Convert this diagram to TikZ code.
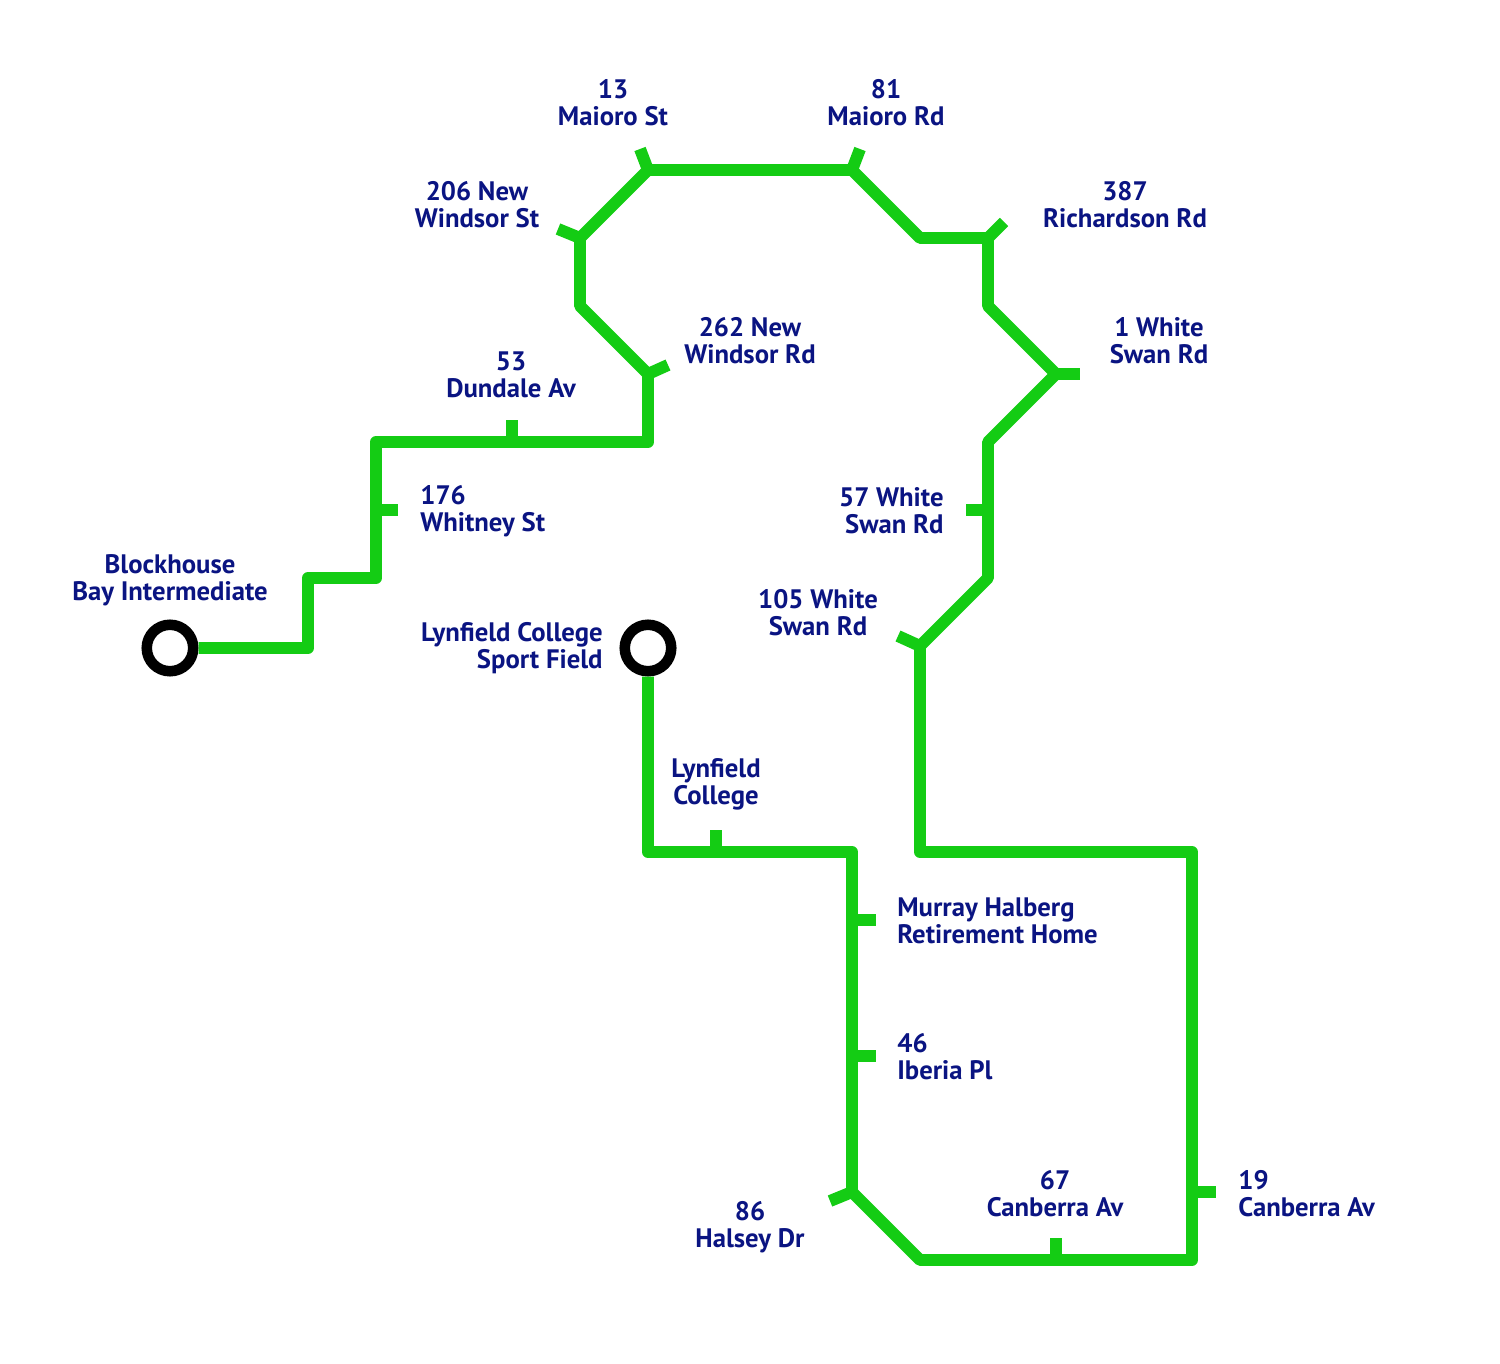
\documentclass[tikz,border=0pt]{standalone}
\usepackage{fontspec}
\setmainfont{PT Sans}
\definecolor{route}{RGB}{20,204,20}
\definecolor{lab}{RGB}{10,20,130}
\begin{document}
\begin{tikzpicture}[x=0.02cm,y=-0.02cm,
  line/.style={route,line width=6.8pt,line join=round},
  tick/.style={route,line width=6.8pt},
  lbl/.style={lab,font=\bfseries\fontsize{15.2}{15.3}\selectfont,align=center,inner sep=0pt},
  term/.style={circle,draw=black,fill=white,line width=6pt,minimum size=0.93cm,inner sep=0pt}]
\useasboundingbox (0,0) rectangle (1500,1364);
\foreach \n/\x/\y in {p1/308/648,p2/308/578,p3/376/578,p4/376/442,p5/648/442,p6/648/374,p7/580/306,p8/580/238,p9/648/170,p10/852/170,p11/920/238,p12/988/238,p13/988/306,p14/1056/374,p15/988/442,p16/988/578,p17/920/646,p18/920/852,p19/1192/852,p20/1192/1260,p21/920/1260,p22/852/1192,p23/852/852,p24/648/852}
  \coordinate (\n) at (\x,\y);
\node[term] (ta) at (170,648) {};
\node[term] (tb) at (648,648) {};
\draw[line] (ta) -- (p1) -- (p2) -- (p3) -- (p4) -- (p5) -- (p6) -- (p7) -- (p8) -- (p9) -- (p10) -- (p11) -- (p12) -- (p13) -- (p14) -- (p15) -- (p16) -- (p17) -- (p18) -- (p19) -- (p20) -- (p21) -- (p22) -- (p23) -- (p24) -- (tb);
% ticks
\foreach \a/\b/\c/\d in {512/442/512/420, 376/510/398/510, 648/374/668/365, 580/238/558/229, 648/170/640/149, 852/170/860/149, 988/238/1004/222, 1056/374/1080/374, 988/510/966/510, 920/646/898/636, 716/852/716/830, 852/920/876/920, 852/1056/876/1056, 852/1192/830/1201, 1056/1260/1056/1238, 1192/1192/1216/1192}
  \draw[tick] (\a,\b) -- (\c,\d);
\node[lbl] (l1) at (613,103) {13\\Maioro St};
\node[lbl] (l2) at (886,103) {81\\Maioro Rd};
\node[lbl] (l3) at (477,205) {206 New\\Windsor St};
\node[lbl] (l4) at (1125,205) {387\\Richardson Rd};
\node[lbl] (l5) at (750,341) {262 New\\Windsor Rd};
\node[lbl] (l6) at (1159,341) {1 White\\Swan Rd};
\node[lbl] (l7) at (511,375) {53\\Dundale Av};
\node[lbl,anchor=west,align=left] (l8) at (420,511) {176\\Whitney St};
\node[lbl,anchor=east,align=right] (l9) at (944,511) {57 White\\Swan Rd};
\node[lbl] (l10) at (170,580) {Blockhouse\\Bay Intermediate};
\node[lbl] (l11) at (818,613) {105 White\\Swan Rd};
\node[lbl,anchor=east,align=right] (l12) at (603,648) {Lynfield College\\Sport Field};
\node[lbl] (l13) at (716,784) {Lynfield\\College};
\node[lbl,anchor=west,align=left] (l14) at (897,921) {Murray Halberg\\Retirement Home};
\node[lbl,anchor=west,align=left] (l15) at (897,1057) {46\\Iberia Pl};
\node[lbl] (l16) at (750,1227) {86\\Halsey Dr};
\node[lbl] (l17) at (1055,1194) {67\\Canberra Av};
\node[lbl,anchor=west,align=left] (l18) at (1238,1194) {19\\Canberra Av};
\end{tikzpicture}
\end{document}
